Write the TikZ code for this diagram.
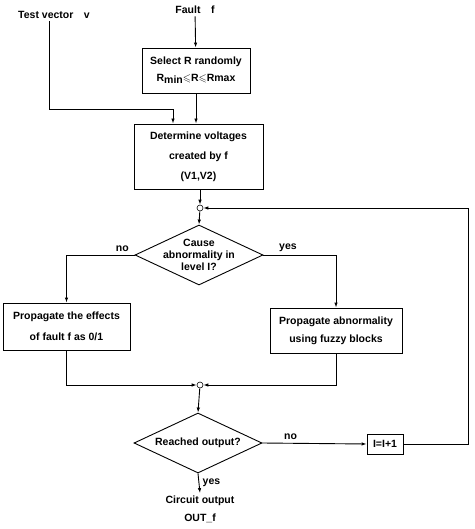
\documentclass[tikz,border=0pt]{standalone}
\usepackage{amssymb}
\usepackage{fontspec}
\setmainfont{Liberation Sans}
\usetikzlibrary{shapes.geometric, arrows.meta, positioning}

\begin{document}
\begin{tikzpicture}[
  x=1pt, y=-1pt,
  font=\bfseries\fontsize{10.5}{20}\selectfont,
  process/.style={rectangle, draw=black, line width=0.9pt, align=center, inner sep=2pt},
  decision/.style={diamond, draw=black, line width=0.9pt, align=center, aspect=2.1,
                   inner xsep=0pt, inner ysep=-8pt, font=\bfseries\fontsize{10.5}{12}\selectfont},
  junction/.style={circle, draw=black, line width=0.6pt, fill=white, inner sep=0pt, minimum size=6pt},
  tag/.style={inner sep=2pt, align=center},
  every path/.style={line width=0.9pt},
  >={Latex[length=5pt,width=3.5pt]},
]
  \useasboundingbox (0,0) rectangle (474,529);

  \node[tag] (testv) at (54,15) {Test vector\quad v};
  \node[tag] (fault) at (195,10) {Fault\quad f};
  \node[process, minimum width=108pt, minimum height=45pt] (select) at (196,70.5)
       {Select R randomly\\[-3pt] R\raisebox{-2pt}{min}$\leqslant$R$\leqslant$Rmax};
  \node[process, minimum width=129pt, minimum height=65pt] (determine) at (198.5,156.5)
       {Determine voltages\\created by f\\(V1,V2)};
  \node[junction] (join1) at (200,208) {};
  \node[decision, minimum width=128pt, minimum height=60pt] (cause) at (199,255)
       {Cause\\abnormality in\\level I?};
  \node[process, minimum width=127pt, minimum height=47pt] (prop01) at (66.5,326.5)
       {Propagate the effects\\[1pt] of fault f as 0/1};
  \node[process, minimum width=132pt, minimum height=45pt] (propfuzzy) at (336,330.5)
       {Propagate abnormality\\[-2pt] using fuzzy blocks};
  \node[junction] (join2) at (200,385) {};
  \node[decision, minimum width=128pt, minimum height=60pt] (reach) at (198,443)
       {Reached output?};
  \node[process, minimum width=36pt, minimum height=20pt] (incr) at (385,444) {I=I+1};
  \node[tag, font=\bfseries\fontsize{10.5}{18}\selectfont] (out) at (200,509)
       {Circuit output\\OUT\_f};

  \coordinate (tvbend) at (49,109);
  \coordinate (tvin) at (173,109);
  \coordinate (loopr) at (468,208);

  % inputs
  \draw[->] (tvbend |- testv.south) -- (tvbend) -- (tvin) -- (tvin |- determine.north);
  \draw[->] (fault) -- (select);
  \draw[->] (select.south) -- (select.south |- determine.north);
  \draw[->] (determine.south -| join1) -- (join1);
  \draw[->] (join1) -- (cause.north);

  % branches
  \draw[->] (cause.west) node[above left, xshift=-2pt] {no} -| (prop01.north);
  \draw[->] (cause.east) node[above right, xshift=12pt] {yes} -| (propfuzzy.north);
  \draw[->] (prop01.south) |- (join2);
  \draw[->] (propfuzzy.south) |- (join2);
  \draw[->] (join2) -- (reach.north);

  % loop and exit
  \draw[->] (reach.east) -- node[above, pos=0.27] {no} (incr.west);
  \draw[->] (incr.east) -| (loopr) -- (join1);
  \draw[->] (reach.south) -- node[right, pos=0.45] {yes} (out.north);
\end{tikzpicture}
\end{document}
